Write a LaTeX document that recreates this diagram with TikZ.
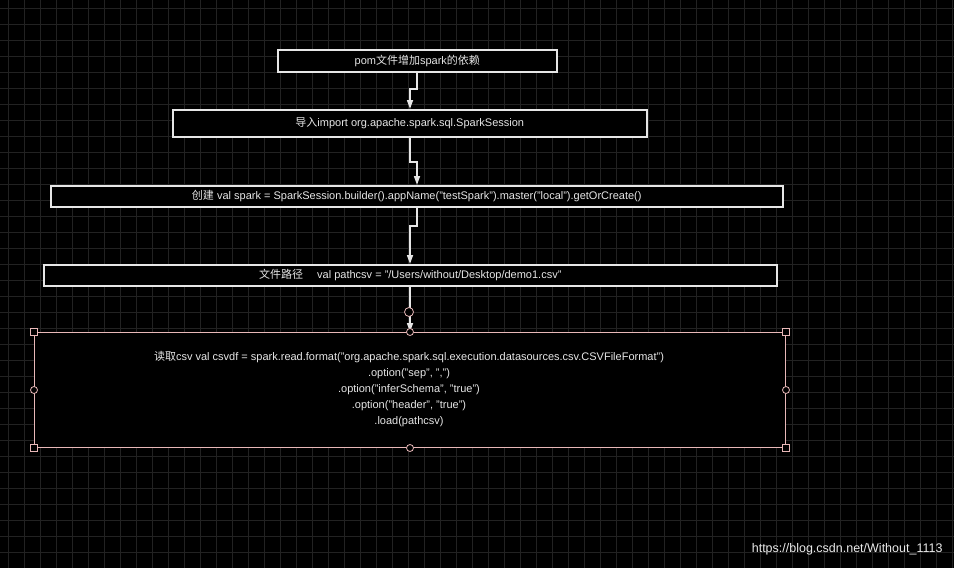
\documentclass[tikz,border=0pt]{standalone}
\usepackage{fontspec}
\setmainfont{Liberation Sans}
\newfontfamily\cjk{Noto Sans CJK SC}
\usetikzlibrary{arrows.meta,calc}
\definecolor{bg}{HTML}{000000}
\definecolor{gridc}{HTML}{222222}
\definecolor{txt}{HTML}{E6E6E6}
\definecolor{sel}{HTML}{E8B8B8}
\tikzset{
  x=1pt,y=-1pt,
  box/.style={draw=txt,line width=1.6pt,fill=black,text=txt,font=\fontsize{11}{13}\selectfont,anchor=north west,inner sep=0pt},
  conn/.style={draw=txt,line width=1.6pt,-{Triangle[width=6pt,length=9pt]}},
  handle/.style={draw=sel,fill=black,line width=0.8pt},
}
\begin{document}
\begin{tikzpicture}
\fill[bg] (0,0) rectangle (954,568);
\useasboundingbox (0,0) rectangle (954,568);
\foreach \i in {8,24,...,952} \draw[gridc,line width=0.5pt] (\i,0) -- (\i,568);
\foreach \j in {8,24,...,566} \draw[gridc,line width=0.5pt] (0,\j) -- (954,\j);
\node[box,minimum width=279pt,minimum height=22pt] (a) at (277,49) {pom{\cjk 文件增加}spark{\cjk 的依赖}};
\node[box,minimum width=474pt,minimum height=27pt] (b) at (172,109) {{\cjk 导入}import org.apache.spark.sql.SparkSession};
\node[box,minimum width=732pt,minimum height=21pt] (c) at (50,185) {{\cjk 创建} val spark = SparkSession.builder().appName("testSpark").master("local").getOrCreate()};
\node[box,minimum width=733pt,minimum height=21pt] (d) at (43,264) {{\cjk 文件路径}\quad\ val pathcsv = "/Users/without/Desktop/demo1.csv"};
\node[box,draw=sel,line width=1pt,minimum width=751pt,minimum height=115pt] (e) at (34,332) {};
\node[text=txt,font=\fontsize{11}{16}\selectfont,align=center] (et) at (409,389) {{\cjk 读取}csv val csvdf = spark.read.format("org.apache.spark.sql.execution.datasources.csv.CSVFileFormat")\\.option("sep", ",")\\.option("inferSchema", "true")\\.option("header", "true")\\.load(pathcsv)};
\draw[conn] (a.south -| 417,0) |- (413,89) -| (b.north -| 410,0);
\draw[conn] (b.south -| 410,0) |- (413,162) -| (c.north -| 417,0);
\draw[conn] (c.south -| 417,0) |- (413,226) -| (d.north -| 410,0);
\draw[conn] (d.south -| 410,0) -- (e.north -| 410,0);
\draw[handle] (409,312) circle (4.5pt);
\foreach \p in {e.north west,e.north east,e.south west,e.south east}
  \draw[handle] ($(\p)+(-3.5,-3.5)$) rectangle ($(\p)+(3.5,3.5)$);
\foreach \p in {e.north,e.south,e.west,e.east}
  \draw[handle] (\p) circle (3.5pt);
\node[text=txt!85,font=\fontsize{12.5}{14}\selectfont,anchor=east] (w) at (946,549) {https://blog.csdn.net/Without\_1113};
\end{tikzpicture}
\end{document}
